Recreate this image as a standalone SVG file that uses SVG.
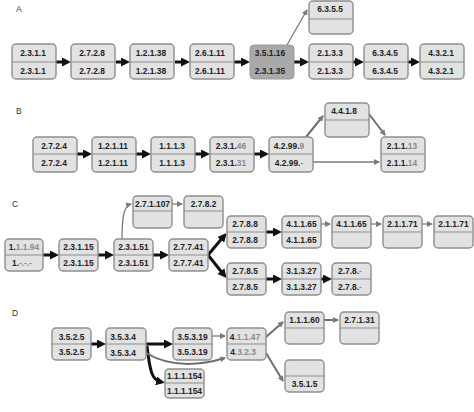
<svg xmlns="http://www.w3.org/2000/svg" width="474" height="412" viewBox="0 0 474 412">
<style>
.bx{fill:#e2e2e2;stroke:#8e8e8e;stroke-width:1.4}
.dk{fill:#a9a9a9;stroke:#9a9a9a;stroke-width:1}
.dv{stroke:#8e8e8e;stroke-width:1.2}
.t{font-family:"Liberation Sans",Arial,sans-serif;font-size:8.4px;font-weight:bold;fill:#222;text-anchor:middle}
.g{fill:#8a8a8a}
.lb{font-family:"Liberation Sans",Arial,sans-serif;font-size:8.5px;fill:#333}
.th{stroke:#111;stroke-width:3;fill:none}
.gr{stroke:#7a7a7a;stroke-width:1.3;fill:none}
.gr2{stroke:#6e6e6e;stroke-width:2;fill:none}
</style>
<defs>
<marker id="hk" markerUnits="userSpaceOnUse" markerWidth="9" markerHeight="9" refX="5" refY="4.5" orient="auto"><path d="M0,0L9,4.5L0,9z" fill="#111"/></marker>
<marker id="hg" markerUnits="userSpaceOnUse" markerWidth="6" markerHeight="6" refX="5" refY="3" orient="auto"><path d="M0,0L6,3L0,6z" fill="#7a7a7a"/></marker>
</defs>
<g id="labels">
<text class="lb" x="16" y="12">A</text>
<text class="lb" x="16" y="114">B</text>
<text class="lb" x="12" y="207">C</text>
<text class="lb" x="12" y="316">D</text>
</g>
<g id="connectors">
<!-- A -->
<line class="th" x1="56" y1="62" x2="67" y2="62" marker-end="url(#hk)"/>
<line class="th" x1="116" y1="62" x2="126" y2="62" marker-end="url(#hk)"/>
<line class="th" x1="175" y1="62" x2="186" y2="62" marker-end="url(#hk)"/>
<line class="th" x1="234" y1="62" x2="246" y2="62" marker-end="url(#hk)"/>
<line class="th" x1="294" y1="62" x2="305" y2="62" marker-end="url(#hk)"/>
<line class="th" x1="353" y1="62" x2="360" y2="62" marker-end="url(#hk)"/>
<line class="th" x1="408" y1="62" x2="416" y2="62" marker-end="url(#hk)"/>
<line class="gr" x1="287" y1="45" x2="307" y2="10" marker-end="url(#hg)"/>
<!-- B -->
<line class="th" x1="77" y1="154" x2="88" y2="154" marker-end="url(#hk)"/>
<line class="th" x1="136" y1="154" x2="147" y2="154" marker-end="url(#hk)"/>
<line class="th" x1="195" y1="154" x2="206" y2="154" marker-end="url(#hk)"/>
<line class="th" x1="254" y1="154" x2="265" y2="154" marker-end="url(#hk)"/>
<line class="gr2" x1="306" y1="137" x2="323" y2="116" marker-end="url(#hg)"/>
<line class="gr2" x1="369" y1="114" x2="385" y2="135" marker-end="url(#hg)"/>
<line class="gr" x1="313" y1="162" x2="379" y2="162" marker-end="url(#hg)"/>
<!-- C -->
<line class="th" x1="43" y1="255" x2="55" y2="255" marker-end="url(#hk)"/>
<line class="th" x1="98" y1="255" x2="110" y2="255" marker-end="url(#hk)"/>
<line class="th" x1="153" y1="255" x2="165" y2="255" marker-end="url(#hk)"/>
<path class="gr" d="M122,239C122,216 124,206 131,204" marker-end="url(#hg)"/>
<line class="gr" x1="172" y1="204" x2="182" y2="204" marker-end="url(#hg)"/>
<line class="th" x1="208" y1="255" x2="224" y2="236" marker-end="url(#hk)"/>
<line class="th" x1="208" y1="255" x2="224" y2="275" marker-end="url(#hk)"/>
<line class="th" x1="266" y1="232" x2="278" y2="232" marker-end="url(#hk)"/>
<line class="gr" x1="321" y1="224" x2="330" y2="224" marker-end="url(#hg)"/>
<line class="gr" x1="371" y1="224" x2="381" y2="224" marker-end="url(#hg)"/>
<line class="gr" x1="422" y1="224" x2="432" y2="224" marker-end="url(#hg)"/>
<line class="th" x1="266" y1="279" x2="278" y2="279" marker-end="url(#hk)"/>
<line class="th" x1="321" y1="279" x2="328" y2="279" marker-end="url(#hk)"/>
<!-- D -->
<line class="th" x1="91" y1="344" x2="102" y2="344" marker-end="url(#hk)"/>
<line class="th" x1="146" y1="344" x2="169" y2="344" marker-end="url(#hk)"/>
<path class="th" d="M147,346C150,372 152,380 161,382" marker-end="url(#hk)"/>
<path class="gr2" d="M146,353Q178,372 225,358" marker-end="url(#hg)"/>
<line class="gr" x1="212" y1="336" x2="225" y2="336" marker-end="url(#hg)"/>
<line class="gr2" x1="266" y1="337" x2="283" y2="322" marker-end="url(#hg)"/>
<line class="gr2" x1="266" y1="353" x2="283" y2="381" marker-end="url(#hg)"/>
<line class="gr2" x1="324" y1="320" x2="338" y2="320" marker-end="url(#hg)"/>
</g>
<!-- Panel A nodes -->
<g id="a1"><rect class="bx" x="12" y="44" width="44" height="35" rx="4"/><line class="dv" x1="12" y1="62" x2="56" y2="62"/><text class="t" x="33" y="56">2.3.1.1</text><text class="t" x="33" y="74">2.3.1.1</text></g>
<g id="a2"><rect class="bx" x="71" y="44" width="44" height="35" rx="4"/><line class="dv" x1="71" y1="62" x2="115" y2="62"/><text class="t" x="92" y="56">2.7.2.8</text><text class="t" x="92" y="74">2.7.2.8</text></g>
<g id="a3"><rect class="bx" x="130" y="44" width="44" height="35" rx="4"/><line class="dv" x1="130" y1="62" x2="174" y2="62"/><text class="t" x="151" y="56">1.2.1.38</text><text class="t" x="151" y="74">1.2.1.38</text></g>
<g id="a4"><rect class="bx" x="190" y="44" width="44" height="35" rx="4"/><line class="dv" x1="190" y1="62" x2="234" y2="62"/><text class="t" x="210" y="56">2.6.1.11</text><text class="t" x="210" y="74">2.6.1.11</text></g>
<g id="a5"><rect class="dk" x="250" y="45" width="44" height="34" rx="4"/><text class="t" x="270" y="56">3.5.1.16</text><text class="t" x="270" y="74">2.3.1.35</text></g>
<g id="a6"><rect class="bx" x="309" y="44" width="44" height="35" rx="4"/><line class="dv" x1="309" y1="62" x2="353" y2="62"/><text class="t" x="330" y="56">2.1.3.3</text><text class="t" x="330" y="74">2.1.3.3</text></g>
<g id="a7"><rect class="bx" x="364" y="44" width="44" height="35" rx="4"/><line class="dv" x1="364" y1="62" x2="408" y2="62"/><text class="t" x="385" y="56">6.3.4.5</text><text class="t" x="385" y="74">6.3.4.5</text></g>
<g id="a8"><rect class="bx" x="420" y="44" width="44" height="35" rx="4"/><line class="dv" x1="420" y1="62" x2="464" y2="62"/><text class="t" x="441" y="56">4.3.2.1</text><text class="t" x="441" y="74">4.3.2.1</text></g>
<g id="a9"><rect class="bx" x="309" y="1" width="44" height="33" rx="4"/><line class="dv" x1="309" y1="19" x2="353" y2="19"/><text class="t" x="330" y="12">6.3.5.5</text></g>
<!-- Panel B nodes -->
<g id="b1"><rect class="bx" x="33" y="137" width="44" height="35" rx="4"/><line class="dv" x1="33" y1="154" x2="77" y2="154"/><text class="t" x="54" y="149">2.7.2.4</text><text class="t" x="54" y="166">2.7.2.4</text></g>
<g id="b2"><rect class="bx" x="92" y="137" width="44" height="35" rx="4"/><line class="dv" x1="92" y1="154" x2="136" y2="154"/><text class="t" x="113" y="149">1.2.1.11</text><text class="t" x="113" y="166">1.2.1.11</text></g>
<g id="b3"><rect class="bx" x="151" y="137" width="44" height="35" rx="4"/><line class="dv" x1="151" y1="154" x2="195" y2="154"/><text class="t" x="172" y="149">1.1.1.3</text><text class="t" x="172" y="166">1.1.1.3</text></g>
<g id="b4"><rect class="bx" x="210" y="137" width="44" height="35" rx="4"/><line class="dv" x1="210" y1="154" x2="254" y2="154"/><text class="t" x="231" y="149">2.3.1.<tspan class="g">46</tspan></text><text class="t" x="231" y="166">2.3.1.<tspan class="g">31</tspan></text></g>
<g id="b5"><rect class="bx" x="269" y="137" width="44" height="35" rx="4"/><line class="dv" x1="269" y1="154" x2="313" y2="154"/><text class="t" x="289" y="149">4.2.99.<tspan class="g">9</tspan></text><text class="t" x="289" y="166">4.2.99.<tspan class="g">-</tspan></text></g>
<g id="b6"><rect class="bx" x="325" y="103" width="44" height="34" rx="4"/><line class="dv" x1="325" y1="120" x2="369" y2="120"/><text class="t" x="344" y="114">4.4.1.8</text></g>
<g id="b7"><rect class="bx" x="381" y="137" width="44" height="35" rx="4"/><line class="dv" x1="381" y1="154" x2="425" y2="154"/><text class="t" x="402" y="149">2.1.1.<tspan class="g">13</tspan></text><text class="t" x="402" y="166">2.1.1.<tspan class="g">14</tspan></text></g>
<!-- Panel C nodes -->
<g id="c1"><rect class="bx" x="5" y="239" width="38" height="32" rx="4"/><line class="dv" x1="5" y1="255" x2="43" y2="255"/><text class="t" x="24" y="250">1.<tspan class="g">1.1.94</tspan></text><text class="t" x="22" y="266">1.<tspan class="g">-.-.-</tspan></text></g>
<g id="c2"><rect class="bx" x="59" y="239" width="39" height="32" rx="4"/><line class="dv" x1="59" y1="255" x2="98" y2="255"/><text class="t" x="78.5" y="250">2.3.1.15</text><text class="t" x="78.5" y="266">2.3.1.15</text></g>
<g id="c3"><rect class="bx" x="114" y="239" width="39" height="32" rx="4"/><line class="dv" x1="114" y1="255" x2="153" y2="255"/><text class="t" x="133.5" y="250">2.3.1.51</text><text class="t" x="133.5" y="266">2.3.1.51</text></g>
<g id="c4"><rect class="bx" x="169" y="239" width="39" height="32" rx="4"/><line class="dv" x1="169" y1="255" x2="208" y2="255"/><text class="t" x="188.5" y="250">2.7.7.41</text><text class="t" x="188.5" y="266">2.7.7.41</text></g>
<g id="c5"><rect class="bx" x="133" y="196" width="39" height="32" rx="4"/><line class="dv" x1="133" y1="211" x2="172" y2="211"/><text class="t" x="152.5" y="207">2.7.1.107</text></g>
<g id="c6"><rect class="bx" x="184" y="196" width="39" height="32" rx="4"/><line class="dv" x1="184" y1="211" x2="223" y2="211"/><text class="t" x="203.5" y="207">2.7.8.2</text></g>
<g id="c7"><rect class="bx" x="227" y="216" width="39" height="32" rx="4"/><line class="dv" x1="227" y1="232" x2="266" y2="232"/><text class="t" x="245" y="227">2.7.8.8</text><text class="t" x="245" y="243">2.7.8.8</text></g>
<g id="c8"><rect class="bx" x="282" y="216" width="39" height="32" rx="4"/><line class="dv" x1="282" y1="232" x2="321" y2="232"/><text class="t" x="301.5" y="227">4.1.1.65</text><text class="t" x="301.5" y="243">4.1.1.65</text></g>
<g id="c9"><rect class="bx" x="332" y="216" width="39" height="32" rx="4"/><line class="dv" x1="332" y1="232" x2="371" y2="232"/><text class="t" x="351.5" y="227">4.1.1.65</text></g>
<g id="c10"><rect class="bx" x="383" y="216" width="39" height="32" rx="4"/><line class="dv" x1="383" y1="232" x2="422" y2="232"/><text class="t" x="402.5" y="227">2.1.1.71</text></g>
<g id="c11"><rect class="bx" x="434" y="216" width="39" height="32" rx="4"/><line class="dv" x1="434" y1="232" x2="473" y2="232"/><text class="t" x="453.5" y="227">2.1.1.71</text></g>
<g id="c12"><rect class="bx" x="227" y="263" width="39" height="32" rx="4"/><line class="dv" x1="227" y1="279" x2="266" y2="279"/><text class="t" x="245" y="274">2.7.8.5</text><text class="t" x="245" y="290">2.7.8.5</text></g>
<g id="c13"><rect class="bx" x="282" y="263" width="39" height="32" rx="4"/><line class="dv" x1="282" y1="279" x2="321" y2="279"/><text class="t" x="301.5" y="274">3.1.3.27</text><text class="t" x="301.5" y="290">3.1.3.27</text></g>
<g id="c14"><rect class="bx" x="332" y="263" width="39" height="32" rx="4"/><line class="dv" x1="332" y1="279" x2="371" y2="279"/><text class="t" x="350" y="274">2.7.8.<tspan class="g">-</tspan></text><text class="t" x="350" y="290">2.7.8.<tspan class="g">-</tspan></text></g>
<!-- Panel D nodes -->
<g id="d1"><rect class="bx" x="52" y="328" width="39" height="32" rx="4"/><line class="dv" x1="52" y1="344" x2="91" y2="344"/><text class="t" x="71.5" y="340">3.5.2.5</text><text class="t" x="71.5" y="355">3.5.2.5</text></g>
<g id="d2"><rect class="bx" x="106" y="328" width="40" height="32" rx="4"/><line class="dv" x1="106" y1="344" x2="146" y2="344"/><text class="t" x="123" y="340">3.5.3.4</text><text class="t" x="123" y="356">3.5.3.4</text></g>
<g id="d3"><rect class="bx" x="173" y="328" width="39" height="32" rx="4"/><line class="dv" x1="173" y1="344" x2="212" y2="344"/><text class="t" x="192.5" y="340">3.5.3.19</text><text class="t" x="192.5" y="355">3.5.3.19</text></g>
<g id="d4"><rect class="bx" x="227" y="328" width="39" height="32" rx="4"/><line class="dv" x1="227" y1="344" x2="266" y2="344"/><text class="t" x="245" y="340">4<tspan class="g">.1.1.47</tspan></text><text class="t" x="243" y="355">4<tspan class="g">.3.2.3</tspan></text></g>
<g id="d5"><rect class="bx" x="285" y="312" width="39" height="32" rx="4"/><line class="dv" x1="285" y1="328" x2="324" y2="328"/><text class="t" x="304.5" y="323">1.1.1.60</text></g>
<g id="d6"><rect class="bx" x="340" y="312" width="39" height="32" rx="4"/><line class="dv" x1="340" y1="328" x2="379" y2="328"/><text class="t" x="359.5" y="323">2.7.1.31</text></g>
<g id="d7"><rect class="bx" x="285" y="360" width="39" height="32" rx="4"/><line class="dv" x1="285" y1="376" x2="324" y2="376"/><text class="t" x="304.5" y="387">3.5.1.5</text></g>
<g id="d8"><rect class="bx" x="165" y="369" width="39" height="29" rx="4"/><line class="dv" x1="165" y1="383" x2="204" y2="383"/><text class="t" x="184.5" y="379">1.1.1.154</text><text class="t" x="184.5" y="394">1.1.1.154</text></g>
</svg>
